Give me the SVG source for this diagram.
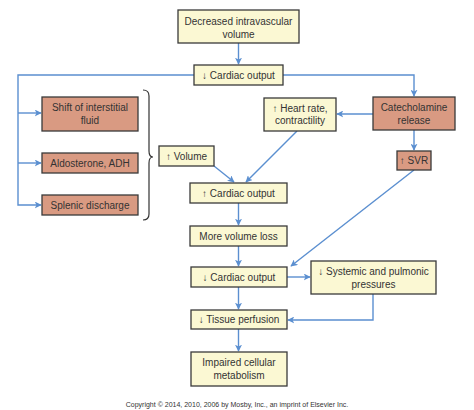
<svg xmlns="http://www.w3.org/2000/svg" width="474" height="410" viewBox="0 0 474 410">
<style>
.c{fill:#fbf8d3;stroke:#3a3a3a;stroke-width:1.3}
.s{fill:#d99a82;stroke:#3a3a3a;stroke-width:1.3}
text{font-family:"Liberation Sans","DejaVu Sans",Arial,sans-serif;font-size:10px;fill:#333;text-anchor:middle}
.cn path{fill:none;stroke:#5b8fd0;stroke-width:1.4}
</style>
<defs>
<marker id="a" viewBox="0 0 10 10" refX="9" refY="5" markerWidth="7" markerHeight="7" markerUnits="userSpaceOnUse" orient="auto">
<path d="M0,0 L10,5 L0,10 L2.5,5 z" fill="#5b8fd0"/>
</marker>
</defs>
<rect width="474" height="410" fill="#fff"/>
<g class="cn">
<path d="M238.5,43 V64" marker-end="url(#a)"/>
<path d="M194,75 H18 V205 H41" marker-end="url(#a)"/>
<path d="M18,113 H41" marker-end="url(#a)"/>
<path d="M18,163 H41" marker-end="url(#a)"/>
<path d="M283,75 H414 V96" marker-end="url(#a)"/>
<path d="M373,114 H337" marker-end="url(#a)"/>
<path d="M414,130 V150" marker-end="url(#a)"/>
<path d="M297,131 L246,182" marker-end="url(#a)"/>
<path d="M214,166 L234,182" marker-end="url(#a)"/>
<path d="M238.5,203 V225" marker-end="url(#a)"/>
<path d="M238.5,246 V266" marker-end="url(#a)"/>
<path d="M414,170 L291,266" marker-end="url(#a)"/>
<path d="M287,277 H310" marker-end="url(#a)"/>
<path d="M238.5,287 V309" marker-end="url(#a)"/>
<path d="M373,294 V320 H288" marker-end="url(#a)"/>
<path d="M238.5,329 V351" marker-end="url(#a)"/>
</g>
<path d="M143,90 Q149,90 149,96 V151 Q149,157 153,157 Q149,157 149,163 V214 Q149,220 143,220" fill="none" stroke="#333" stroke-width="1.2"/>
<g id="n1"><rect class="c" x="178" y="10" width="121" height="33"/><text x="238.5" y="24.5">Decreased intravascular</text><text x="238.5" y="37.5">volume</text></g>
<g id="n2"><rect class="c" x="194" y="65" width="89" height="20"/><text x="238.5" y="78.5">↓ Cardiac output</text></g>
<g id="n3"><rect class="s" x="42" y="97" width="96" height="34"/><text x="90" y="111">Shift of interstitial</text><text x="90" y="123.5">fluid</text></g>
<g id="n4"><rect class="s" x="42" y="153" width="96" height="20"/><text x="90" y="166.5">Aldosterone, ADH</text></g>
<g id="n5"><rect class="s" x="42" y="195" width="96" height="20"/><text x="90" y="208.5">Splenic discharge</text></g>
<g id="n6"><rect class="c" x="264" y="98" width="72" height="33"/><text x="300" y="111.5">↑ Heart rate,</text><text x="300" y="124">contractility</text></g>
<g id="n7"><rect class="s" x="373" y="97" width="82" height="33"/><text x="414" y="111">Catecholamine</text><text x="414" y="123.5">release</text></g>
<g id="n8"><rect class="c" x="159" y="146" width="55" height="20"/><text x="186.5" y="159.5">↑ Volume</text></g>
<g id="n9"><rect class="s" x="397" y="151" width="34" height="19"/><text x="414" y="164">↑ SVR</text></g>
<g id="n10"><rect class="c" x="190" y="183" width="97" height="20"/><text x="238.5" y="196.5">↑ Cardiac output</text></g>
<g id="n11"><rect class="c" x="190" y="226" width="97" height="20"/><text x="238.5" y="239.5">More volume loss</text></g>
<g id="n12"><rect class="c" x="191" y="267" width="96" height="20"/><text x="239" y="280.5">↓ Cardiac output</text></g>
<g id="n13"><rect class="c" x="311" y="261" width="125" height="33"/><text x="373.5" y="275">↓ Systemic and pulmonic</text><text x="373.5" y="287.5">pressures</text></g>
<g id="n14"><rect class="c" x="191" y="310" width="96" height="19"/><text x="239" y="323">↓ Tissue perfusion</text></g>
<g id="n15"><rect class="c" x="191" y="352" width="96" height="34"/><text x="239" y="366">Impaired cellular</text><text x="239" y="379">metabolism</text></g>
<text x="237" y="406.5" style="font-size:7px">Copyright © 2014, 2010, 2006 by Mosby, Inc., an imprint of Elsevier Inc.</text>
</svg>
